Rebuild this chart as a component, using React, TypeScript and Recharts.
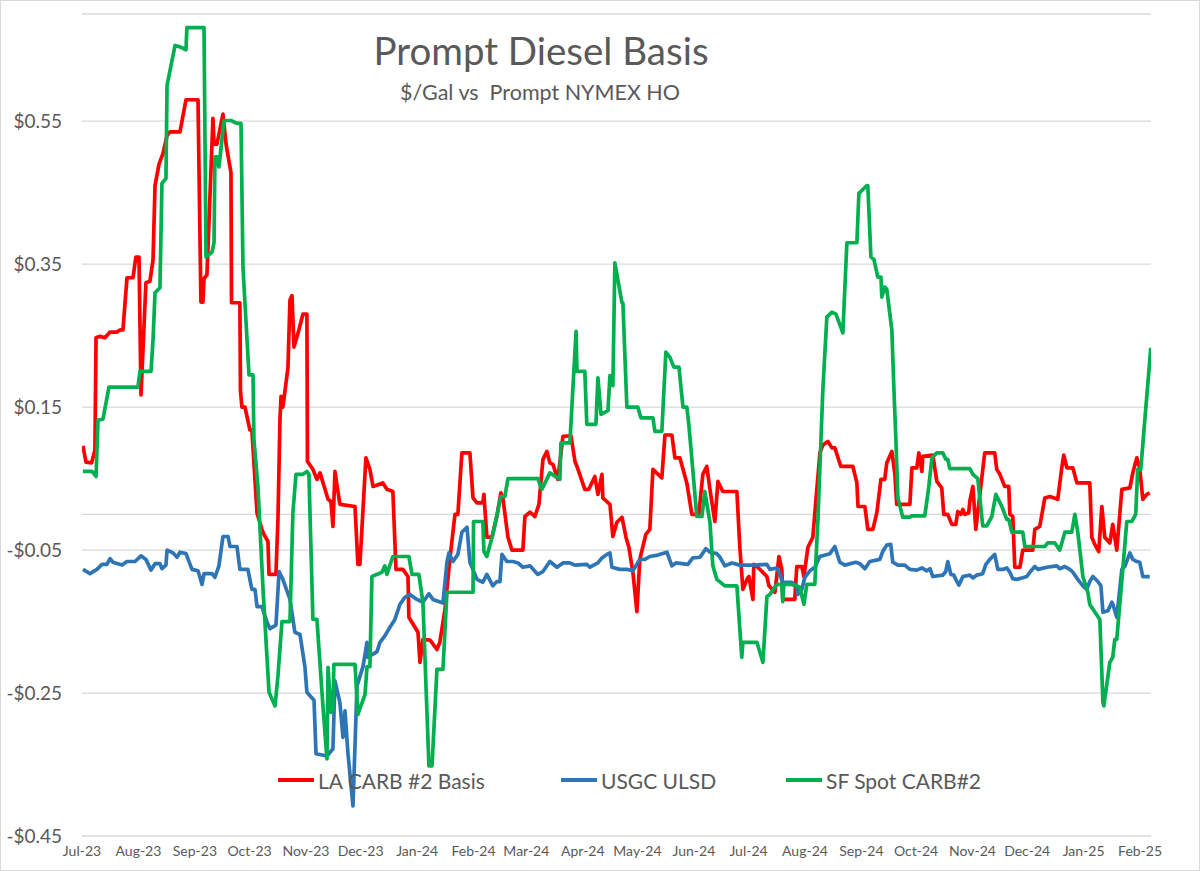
import React from "react";
import {
	CartesianGrid,
	Line,
	LineChart,
	ReferenceLine,
	XAxis,
	YAxis,
} from "recharts";

// Days counted from 1 Jul 2023, basis in $/gal vs prompt NYMEX HO
const laCarb: [number, number][] = [
	[0.5, 0.096], [2.2, 0.073], [5.3, 0.072], [7.1, 0.09], [7.7, 0.247], [9.9, 0.249],
	[12.6, 0.247], [15.4, 0.255], [19.2, 0.255], [20.9, 0.258], [22.5, 0.258], [24.7, 0.331],
	[28.0, 0.331], [29.6, 0.36], [31.3, 0.36], [32.4, 0.167], [35.1, 0.324], [37.3, 0.326],
	[39.0, 0.356], [40.1, 0.46], [42.3, 0.49], [44.5, 0.505], [46.7, 0.53], [48.3, 0.535],
	[53.8, 0.535], [57.1, 0.58], [63.7, 0.58], [65.3, 0.297], [66.4, 0.297], [67.0, 0.33],
	[68.6, 0.335], [71.9, 0.554], [72.5, 0.518], [74.1, 0.518], [77.4, 0.56], [79.1, 0.518],
	[81.8, 0.478], [82.1, 0.296], [86.7, 0.296], [87.0, 0.174], [87.8, 0.15], [89.5, 0.15],
	[92.2, 0.118], [93.3, 0.118], [96.1, 0.002], [98.8, -0.021], [99.9, -0.028], [102.1, -0.038],
	[102.7, -0.084], [106.5, -0.084], [107.6, -0.007], [108.7, 0.132], [109.3, 0.165], [110.3, 0.15],
	[113.1, 0.205], [114.2, 0.3], [115.3, 0.306], [116.4, 0.234], [119.1, 0.258], [121.3, 0.28],
	[123.5, 0.28], [123.8, 0.074], [126.8, 0.063], [129.0, 0.049], [130.7, 0.058], [135.1, 0.021],
	[136.7, 0.018], [137.8, -0.017], [138.9, 0.06], [141.6, 0.014], [149.9, 0.011], [151.5, -0.07],
	[152.6, -0.07], [155.9, 0.079], [158.1, 0.063], [159.8, 0.039], [165.2, 0.044], [167.4, 0.035],
	[170.7, 0.032], [172.4, -0.077], [176.2, -0.077], [179.0, -0.087], [179.5, -0.144], [184.5, -0.165],
	[185.6, -0.207], [187.2, -0.175], [191.1, -0.176], [194.9, -0.189], [196.5, -0.179], [199.3, -0.133],
	[202.0, -0.063], [204.8, 0.0], [206.4, 0.0], [208.6, 0.086], [213.0, 0.086], [214.7, 0.023],
	[216.9, 0.016], [220.1, 0.016], [220.7, 0.028], [222.3, -0.032], [225.1, -0.032], [227.8, -0.003],
	[230.0, 0.03], [231.1, 0.023], [233.9, -0.032], [236.1, -0.05], [242.1, -0.05], [243.2, -0.003],
	[246.0, 0.003], [248.7, -0.003], [250.9, 0.014], [253.1, 0.077], [255.3, 0.088], [256.9, 0.072],
	[258.6, 0.07], [261.3, 0.049], [264.1, 0.109], [268.5, 0.11], [270.7, 0.074], [271.8, 0.067],
	[276.1, 0.035], [278.3, 0.035], [281.6, 0.053], [283.3, 0.028], [285.5, 0.056], [286.0, 0.023],
	[289.9, 0.014], [291.5, -0.031], [293.7, -0.011], [296.5, -0.004], [298.7, -0.032], [300.3, -0.046],
	[302.5, -0.081], [304.7, -0.136], [306.3, -0.063], [309.6, -0.028], [311.8, -0.021], [313.5, 0.063],
	[318.4, 0.051], [320.1, 0.111], [323.9, 0.111], [325.6, 0.079], [328.3, 0.079], [332.1, 0.044],
	[334.9, 0.0], [338.7, 0.0], [340.9, 0.056], [343.1, 0.067], [344.8, 0.035], [347.5, -0.01],
	[349.2, 0.046], [351.9, 0.032], [359.6, 0.032], [361.2, -0.045], [362.9, -0.105], [365.1, -0.091],
	[366.2, -0.087], [368.4, -0.119], [368.9, -0.07], [371.1, -0.074], [376.1, -0.087], [377.2, -0.1],
	[380.5, -0.109], [382.7, -0.059], [384.3, -0.077], [384.8, -0.119], [391.4, -0.119], [392.5, -0.073],
	[395.3, -0.073], [396.4, -0.087], [398.6, -0.046], [401.3, -0.032], [405.2, 0.086], [406.8, 0.097],
	[409.6, 0.102], [411.8, 0.093], [413.4, 0.093], [416.7, 0.067], [423.3, 0.067], [425.5, 0.044],
	[426.1, 0.011], [429.9, 0.011], [431.5, -0.021], [434.3, -0.021], [436.5, 0.003], [438.7, 0.049],
	[440.8, 0.049], [441.9, 0.072], [444.7, 0.088], [446.3, 0.058], [447.4, 0.014], [454.6, 0.014],
	[455.7, 0.065], [458.4, 0.065], [459.5, 0.086], [461.2, 0.06], [461.7, 0.081], [467.2, 0.083],
	[469.4, 0.046], [472.1, 0.037], [473.2, 0.0], [475.4, 0.0], [477.6, -0.014], [479.8, -0.014],
	[480.9, 0.004], [482.6, 0.0], [483.7, 0.007], [484.8, 0.0], [486.9, 0.002], [487.5, 0.018],
	[489.2, 0.039], [490.8, -0.021], [491.9, 0.003], [495.7, 0.086], [501.2, 0.086], [502.3, 0.063],
	[504.0, 0.056], [506.7, 0.039], [508.9, 0.039], [509.5, 0.0], [511.1, -0.003], [512.2, -0.074],
	[515.0, -0.074], [516.6, -0.05], [522.1, -0.05], [523.2, -0.021], [525.9, -0.017], [528.7, 0.023],
	[531.4, 0.025], [535.8, 0.021], [538.0, 0.065], [539.1, 0.083], [540.8, 0.065], [544.1, 0.065],
	[546.3, 0.044], [553.4, 0.044], [554.5, -0.032], [556.1, -0.042], [558.3, -0.052], [560.0, 0.011],
	[561.6, -0.032], [564.4, -0.04], [566.0, -0.014], [568.2, -0.05], [571.0, 0.035], [575.4, 0.037],
	[577.0, 0.058], [579.2, 0.079], [580.8, 0.065], [582.5, 0.021], [584.7, 0.028], [586.3, 0.03],
];

const usgcUlsd: [number, number][] = [
	[0.5, -0.077], [4.4, -0.083], [8.2, -0.077], [11.0, -0.07], [13.7, -0.07], [15.4, -0.062],
	[17.0, -0.067], [22.0, -0.071], [24.7, -0.066], [29.1, -0.066], [32.4, -0.058], [35.1, -0.063],
	[37.9, -0.078], [40.1, -0.069], [42.8, -0.069], [43.9, -0.076], [46.1, -0.071], [46.7, -0.05],
	[50.0, -0.054], [52.2, -0.06], [53.8, -0.053], [57.1, -0.055], [60.4, -0.077], [63.7, -0.079],
	[65.9, -0.098], [67.0, -0.083], [71.4, -0.083], [73.0, -0.088], [75.2, -0.072], [77.4, -0.031],
	[80.2, -0.031], [81.3, -0.045], [85.1, -0.045], [86.7, -0.077], [91.1, -0.077], [93.3, -0.105],
	[95.0, -0.105], [96.1, -0.129], [98.8, -0.129], [101.6, -0.151], [103.2, -0.16], [106.5, -0.155],
	[108.2, -0.08], [110.3, -0.091], [114.2, -0.119], [116.9, -0.165], [119.7, -0.168], [122.4, -0.213],
	[123.5, -0.249], [127.4, -0.26], [128.5, -0.335], [134.5, -0.338], [137.8, -0.328], [138.9, -0.233],
	[141.6, -0.263], [143.3, -0.312], [144.4, -0.275], [146.0, -0.333], [148.8, -0.408], [151.0, -0.24],
	[154.3, -0.213], [156.5, -0.179], [157.0, -0.2], [162.0, -0.192], [163.6, -0.179], [166.3, -0.17],
	[169.1, -0.158], [171.8, -0.147], [174.6, -0.126], [177.3, -0.116], [180.1, -0.112], [183.9, -0.119],
	[187.2, -0.123], [190.5, -0.111], [192.7, -0.119], [198.2, -0.124], [200.4, -0.067], [201.5, -0.054],
	[203.7, -0.066], [206.4, -0.056], [208.6, -0.025], [211.4, -0.018], [213.0, -0.067], [216.9, -0.091],
	[220.1, -0.095], [222.3, -0.084], [225.6, -0.1], [227.8, -0.094], [229.5, -0.094], [230.6, -0.056],
	[233.3, -0.066], [236.6, -0.066], [239.4, -0.068], [242.1, -0.074], [246.0, -0.072], [250.3, -0.084],
	[253.1, -0.08], [256.9, -0.066], [260.8, -0.074], [264.1, -0.068], [267.9, -0.068], [270.7, -0.071],
	[277.2, -0.07], [278.9, -0.074], [283.3, -0.068], [285.5, -0.061], [288.2, -0.056], [289.9, -0.054],
	[291.0, -0.074], [295.4, -0.077], [299.2, -0.077], [302.5, -0.079], [306.3, -0.063], [309.1, -0.063],
	[311.8, -0.059], [316.2, -0.057], [321.2, -0.053], [323.9, -0.072], [326.1, -0.068], [332.7, -0.07],
	[335.4, -0.061], [339.3, -0.06], [342.6, -0.048], [344.8, -0.053], [348.6, -0.055], [350.3, -0.06],
	[353.0, -0.072], [356.9, -0.068], [361.2, -0.071], [368.4, -0.071], [376.1, -0.07], [377.7, -0.077],
	[381.6, -0.075], [382.7, -0.081], [384.8, -0.095], [389.7, -0.095], [392.5, -0.1], [393.1, -0.112],
	[395.3, -0.105], [396.9, -0.088], [399.7, -0.079], [402.4, -0.074], [405.2, -0.059], [410.7, -0.055],
	[413.4, -0.045], [416.1, -0.067], [418.9, -0.071], [424.9, -0.067], [427.1, -0.069], [429.9, -0.076],
	[432.6, -0.066], [438.1, -0.063], [439.7, -0.052], [441.9, -0.043], [444.1, -0.042], [445.2, -0.067],
	[448.0, -0.071], [451.8, -0.071], [454.6, -0.077], [458.4, -0.078], [461.2, -0.075], [463.9, -0.079],
	[465.6, -0.076], [467.2, -0.087], [472.7, -0.085], [474.3, -0.08], [475.4, -0.066], [477.1, -0.084],
	[478.7, -0.085], [480.4, -0.094], [481.5, -0.099], [483.7, -0.087], [487.5, -0.085], [489.2, -0.089],
	[491.4, -0.085], [494.6, -0.083], [496.3, -0.07], [498.5, -0.063], [501.2, -0.056], [502.9, -0.077],
	[505.6, -0.077], [507.8, -0.075], [509.5, -0.081], [511.1, -0.09], [513.3, -0.091], [516.1, -0.089],
	[518.8, -0.087], [520.5, -0.081], [523.2, -0.073], [524.9, -0.077], [529.8, -0.074], [535.3, -0.072],
	[536.9, -0.076], [539.7, -0.073], [542.4, -0.077], [544.1, -0.081], [546.8, -0.091], [549.6, -0.1],
	[551.7, -0.105], [553.4, -0.094], [555.1, -0.087], [557.8, -0.094], [559.5, -0.1], [560.6, -0.137],
	[563.3, -0.135], [565.5, -0.123], [566.0, -0.125], [568.2, -0.144], [571.0, -0.077], [572.6, -0.073],
	[575.4, -0.054], [577.0, -0.063], [579.2, -0.066], [580.8, -0.067], [582.5, -0.087], [586.3, -0.087],
];

const sfSpot: [number, number][] = [
	[0.5, 0.06], [5.5, 0.06], [7.7, 0.053], [8.8, 0.132], [11.5, 0.133], [14.8, 0.178],
	[30.7, 0.178], [31.8, 0.2], [37.9, 0.2], [39.0, 0.244], [40.1, 0.31], [42.8, 0.317],
	[43.9, 0.463], [46.1, 0.47], [46.7, 0.6], [51.1, 0.656], [53.8, 0.654], [57.1, 0.65],
	[57.6, 0.681], [67.0, 0.681], [68.1, 0.36], [71.4, 0.367], [72.5, 0.38], [73.0, 0.5],
	[74.1, 0.5], [75.2, 0.486], [78.0, 0.551], [81.8, 0.551], [85.1, 0.547], [87.3, 0.547],
	[88.4, 0.345], [91.7, 0.195], [93.9, 0.195], [94.4, 0.105], [96.6, 0.039], [99.4, -0.105],
	[102.7, -0.249], [106.0, -0.268], [107.6, -0.226], [109.8, -0.15], [114.2, -0.15], [115.8, 0.002],
	[117.5, 0.056], [121.3, 0.056], [123.5, 0.06], [124.6, 0.056], [126.8, -0.147], [129.0, -0.147],
	[132.3, -0.268], [134.5, -0.342], [135.1, -0.214], [136.7, -0.277], [137.8, -0.273], [138.3, -0.21],
	[149.9, -0.21], [151.5, -0.28], [155.4, -0.252], [156.5, -0.213], [158.1, -0.213], [159.2, -0.087],
	[164.7, -0.081], [166.3, -0.072], [167.4, -0.084], [170.7, -0.059], [179.5, -0.059], [181.2, -0.084],
	[185.0, -0.084], [187.2, -0.123], [190.5, -0.352], [192.2, -0.352], [194.9, -0.217], [198.2, -0.217],
	[200.4, -0.109], [214.7, -0.109], [215.0, -0.01], [220.1, -0.01], [220.7, -0.052], [222.3, -0.059],
	[225.6, -0.028], [230.0, 0.025], [232.2, 0.025], [233.9, 0.05], [250.3, 0.05], [252.5, 0.035],
	[256.9, 0.058], [262.4, 0.049], [263.0, 0.1], [267.9, 0.1], [271.3, 0.256], [271.8, 0.2],
	[276.1, 0.2], [277.2, 0.126], [282.2, 0.126], [283.3, 0.191], [285.0, 0.14], [288.8, 0.145],
	[289.9, 0.194], [291.5, 0.18], [292.6, 0.352], [296.5, 0.296], [297.0, 0.296], [299.2, 0.15],
	[305.2, 0.15], [306.9, 0.135], [313.5, 0.135], [314.6, 0.116], [318.4, 0.116], [320.6, 0.227],
	[322.8, 0.22], [325.0, 0.206], [327.8, 0.206], [330.0, 0.15], [332.1, 0.15], [333.2, 0.126],
	[334.9, 0.077], [337.6, -0.003], [340.4, -0.003], [342.0, 0.032], [344.8, -0.011], [346.4, -0.072],
	[348.6, -0.091], [353.0, -0.1], [359.6, -0.1], [362.3, -0.2], [362.9, -0.179], [370.6, -0.179],
	[373.9, -0.207], [376.1, -0.115], [377.7, -0.112], [381.6, -0.098], [384.3, -0.098], [384.8, -0.122],
	[385.4, -0.098], [389.8, -0.098], [394.2, -0.102], [396.4, -0.126], [398.0, -0.098], [402.4, -0.098],
	[404.1, -0.007], [406.8, 0.174], [409.0, 0.276], [411.8, 0.283], [414.0, 0.28], [417.8, 0.254],
	[420.0, 0.38], [425.5, 0.38], [426.6, 0.449], [431.0, 0.46], [431.5, 0.46], [433.2, 0.36],
	[434.8, 0.357], [437.0, 0.332], [438.7, 0.332], [439.2, 0.304], [440.8, 0.318], [441.9, 0.315],
	[444.7, 0.258], [445.8, 0.177], [446.9, 0.105], [448.0, 0.023], [450.7, -0.004], [454.6, -0.004],
	[455.7, -0.002], [462.8, -0.002], [465.0, 0.039], [466.7, 0.079], [469.4, 0.086], [472.7, 0.086],
	[474.3, 0.077], [475.4, 0.077], [476.5, 0.064], [487.5, 0.064], [489.2, 0.056], [491.9, 0.05],
	[494.6, -0.016], [496.8, -0.016], [499.6, -0.003], [501.8, 0.028], [505.1, 0.011], [507.8, -0.007],
	[508.9, -0.007], [510.6, -0.025], [516.6, -0.025], [517.7, -0.045], [528.7, -0.045], [530.3, -0.04],
	[534.2, -0.04], [536.9, -0.05], [539.7, -0.025], [543.5, -0.025], [545.2, 0.0], [546.8, -0.025],
	[549.6, -0.087], [552.3, -0.109], [553.4, -0.126], [558.9, -0.147], [560.6, -0.263], [561.1, -0.268],
	[564.4, -0.207], [566.0, -0.2], [567.1, -0.175], [568.2, -0.175], [571.5, -0.077], [573.7, -0.01],
	[576.5, -0.01], [578.6, 0.0], [579.7, 0.063], [581.4, 0.063], [583.6, 0.132], [586.9, 0.233],
];

const monthTicks = [0, 31, 62, 92, 123, 153, 184, 215, 244, 275, 305, 336, 366, 397, 428, 458, 489, 519, 550, 581];
const monthLabels = [
	"Jul-23", "Aug-23", "Sep-23", "Oct-23", "Nov-23", "Dec-23", "Jan-24", "Feb-24", "Mar-24", "Apr-24",
	"May-24", "Jun-24", "Jul-24", "Aug-24", "Sep-24", "Oct-24", "Nov-24", "Dec-24", "Jan-25", "Feb-25",
];
const valueTicks = [-0.45, -0.25, -0.05, 0.15, 0.35, 0.55];

const series = [
	{ name: "LA CARB #2 Basis", color: "#FF0000", points: laCarb },
	{ name: "USGC ULSD", color: "#2E75B6", points: usgcUlsd },
	{ name: "SF Spot CARB#2", color: "#00B050", points: sfSpot },
];

const FONT = "Lato, 'Open Sans', sans-serif";
const TEXT = "#595959";

const fmtDollar = (v: number) => (v < 0 ? `-$${Math.abs(v).toFixed(2)}` : `$${v.toFixed(2)}`);
const fmtMonth = (d: number) => monthLabels[monthTicks.indexOf(d)] ?? "";

// legend sits inside the plot, just above the lowest gridline
const legendSpots = [277, 560, 785];

export default function App() {
	return (
		<div
			style={{
				position: "absolute",
				left: 0,
				top: 0,
				width: 1200,
				height: 871,
				background: "#fff",
				border: "1px solid #d9d9d9",
				boxSizing: "border-box",
				fontFamily: FONT,
			}}
		>
			<LineChart
				width={1198}
				height={869}
				margin={{ top: 13, right: 48, left: 0, bottom: 4 }}
				style={{ position: "absolute", left: 0, top: 0 }}
			>
				<CartesianGrid vertical={false} stroke="#d9d9d9" strokeWidth={1.3} />
				<XAxis
					type="number"
					dataKey="d"
					domain={[0, 587]}
					ticks={monthTicks}
					tickFormatter={fmtMonth}
					interval={0}
					allowDataOverflow
					axisLine={false}
					tickLine={false}
					tickSize={0}
					tickMargin={10}
					height={30}
					tick={{ fill: TEXT, fontSize: 14, fontFamily: FONT }}
				/>
				<YAxis
					type="number"
					domain={[-0.45, 0.7]}
					ticks={valueTicks}
					tickFormatter={fmtDollar}
					allowDataOverflow
					axisLine={false}
					tickLine={false}
					tickSize={0}
					tickMargin={20}
					width={81}
					tick={{ fill: TEXT, fontSize: 19, fontFamily: FONT }}
				/>
				<ReferenceLine y={0} stroke="#d9d9d9" strokeWidth={1.3} />
				{series.map((s) => (
					<Line
						key={s.name}
						data={s.points.map(([d, v]) => ({ d, v }))}
						dataKey="v"
						name={s.name}
						type="linear"
						stroke={s.color}
						strokeWidth={3.7}
						strokeLinejoin="round"
						dot={false}
						activeDot={false}
						isAnimationActive={false}
					/>
				))}
			</LineChart>

			<div
				style={{
					position: "absolute",
					left: 0,
					width: 1080,
					top: 26,
					textAlign: "center",
					color: TEXT,
					fontSize: 38.5,
					lineHeight: "46px",
				}}
			>
				Prompt Diesel Basis
			</div>
			<div
				style={{
					position: "absolute",
					left: 0,
					width: 1078,
					top: 77,
					textAlign: "center",
					color: TEXT,
					fontSize: 21.5,
					lineHeight: "28px",
					whiteSpace: "pre",
				}}
			>
				{"$/Gal vs  Prompt NYMEX HO"}
			</div>

			{series.map((s, i) => (
				<div
					key={s.name}
					style={{
						position: "absolute",
						left: legendSpots[i],
						top: 766,
						height: 26,
						display: "flex",
						alignItems: "center",
						color: TEXT,
						fontSize: 21,
						whiteSpace: "nowrap",
					}}
				>
					<span style={{ display: "inline-block", width: 36, height: 4, background: s.color, marginRight: 4 }} />
					{s.name}
				</div>
			))}
		</div>
	);
}
